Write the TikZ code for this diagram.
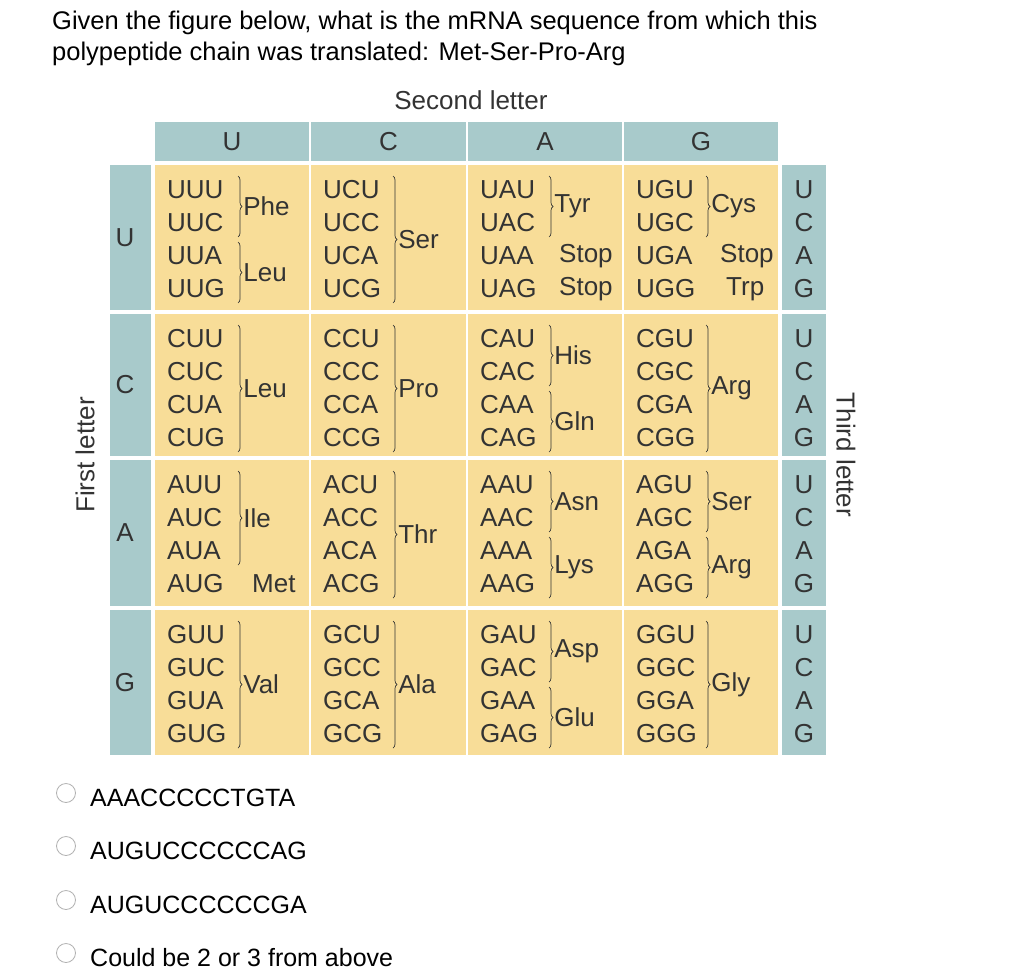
\documentclass[tikz,border=0pt]{standalone}
\usepackage{fontspec}
\setmainfont{Liberation Sans}
\usetikzlibrary{decorations.pathreplacing}
\definecolor{hdr}{HTML}{A8CACB}
\definecolor{cellc}{HTML}{F8DD98}
\definecolor{txt}{HTML}{333333}
\newcommand{\cf}{\fontsize{26}{26}\selectfont}
\newcommand{\tf}{\fontsize{25.5}{28}\selectfont}
\newcommand{\of}{\fontsize{25}{28}\selectfont}
\newcommand{\mybrace}[4]{% x, line start, line end, label ; uses \rowtop
  \draw[txt,line width=0.7pt,decorate,decoration={brace,amplitude=4pt}]
    (#1,\rowtop+25+33*#2-14) -- (#1,\rowtop+25+33*#3+14)
    node[midway,anchor=west,inner sep=0pt,xshift=5pt,text=txt]{\cf #4};}
\begin{document}
\begin{tikzpicture}[x=1pt,y=-1pt]
\useasboundingbox (0,0) rectangle (1024,973);
\fill[white] (0,0) rectangle (1024,973);
\node[anchor=base west,inner sep=0pt] (t1) at (52,30) {\tf Given the figure below, what is the mRNA sequence from which this};
\node[anchor=base west,inner sep=0pt] (t2) at (52,61) {\tf polypeptide chain was translated: Met-Ser-Pro-Arg};
\node[text=txt] (sl) at (471,100) {\cf Second letter};
\node[text=txt,rotate=90] (fl) at (85,455) {\cf First letter};
\node[text=txt,rotate=-90] (thl) at (846,455) {\cf Third letter};
% header
\foreach \x/\w/\l in {155/154/U,311/155/C,468/154/A,624/154/G}{
  \fill[hdr] (\x,122) rectangle (\x+\w,161);
  \node[text=txt] (h\l) at (\x+\w/2,142) {\cf \l};
}
% rows
\foreach \t/\b/\l in {165/310/U,314/456/C,460/606/A,610/755/G}{
  \fill[hdr] (110,\t) rectangle (151,\b);
  \node[text=txt] (r\l) at (125,\t/2+\b/2) {\cf \l};
  \fill[hdr] (782,\t) rectangle (826,\b);
  \foreach \k/\n in {0/U,1/C,2/A,3/G}{
    \node[text=txt] (th\l\n) at (804,\t+25+33*\k) {\cf \n};
  }
  \foreach \x/\w in {155/154,311/155,468/154,624/154}{
    \fill[cellc] (\x,\t) rectangle (\x+\w,\b);
  }
}
% codons
\foreach \t/\f in {165/U,314/C,460/A,610/G}{
  \foreach \x/\s in {155/U,311/C,468/A,624/G}{
    \foreach \k/\n in {0/U,1/C,2/A,3/G}{
      \node[anchor=west,inner sep=0pt,text=txt] (c\f\s\n) at (\x+12,\t+25+33*\k) {\cf \f\s\n};
    }
  }
}
% braces and amino acids
\def\rowtop{165}
\mybrace{238}{0}{1}{Phe}\mybrace{238}{2}{3}{Leu}
\mybrace{393}{0}{3}{Ser}
\mybrace{549}{0}{1}{Tyr}
\node[anchor=west,inner sep=0pt,text=txt] (s1) at (559,\rowtop+25+66) {\cf Stop};
\node[anchor=west,inner sep=0pt,text=txt] (s2) at (559,\rowtop+25+99) {\cf Stop};
\mybrace{706}{0}{1}{Cys}
\node[anchor=west,inner sep=0pt,text=txt] (s3) at (720,\rowtop+25+66) {\cf Stop};
\node[anchor=west,inner sep=0pt,text=txt] (w1) at (726,\rowtop+25+99) {\cf Trp};
\def\rowtop{314}
\mybrace{238}{0}{3}{Leu}
\mybrace{393}{0}{3}{Pro}
\mybrace{549}{0}{1}{His}\mybrace{549}{2}{3}{Gln}
\mybrace{706}{0}{3}{Arg}
\def\rowtop{460}
\mybrace{238}{0}{2}{Ile}
\node[anchor=west,inner sep=0pt,text=txt] (m1) at (252,\rowtop+25+99) {\cf Met};
\mybrace{393}{0}{3}{Thr}
\mybrace{549}{0}{1}{Asn}\mybrace{549}{2}{3}{Lys}
\mybrace{706}{0}{1}{Ser}\mybrace{706}{2}{3}{Arg}
\def\rowtop{610}
\mybrace{238}{0}{3}{Val}
\mybrace{393}{0}{3}{Ala}
\mybrace{549}{0}{1}{Asp}\mybrace{549}{2}{3}{Glu}
\mybrace{706}{0}{3}{Gly}
% options
\foreach \y/\s/\n in {798/AAACCCCCTGTA/o1,851/AUGUCCCCCCAG/o2,905/AUGUCCCCCCGA/o3,958/Could be 2 or 3 from above/o4}{
  \draw[gray!60,line width=0.8pt] (66,\y-5) circle (9.5);
  \node[anchor=west,inner sep=0pt] (\n) at (90,\y) {\of \s};
}
\end{tikzpicture}
\end{document}
